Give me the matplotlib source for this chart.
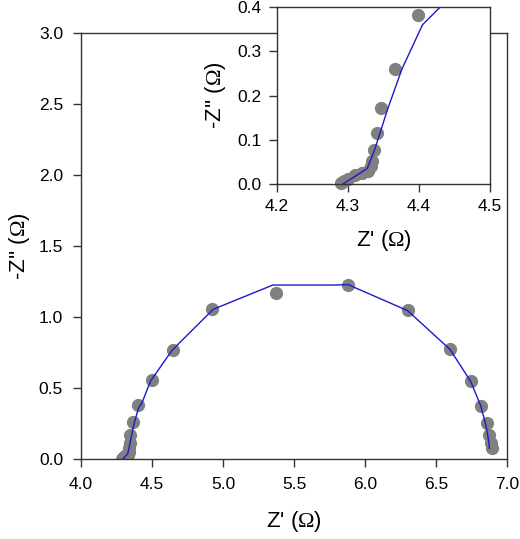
import matplotlib
matplotlib.use("Agg")
import matplotlib.pyplot as plt

plt.rcParams['font.family'] = ['Liberation Sans', 'DejaVu Sans']
plt.rcParams['mathtext.fontset'] = 'custom'
plt.rcParams['mathtext.rm'] = 'Liberation Serif'

# measured data (Z', -Z'')
z_re = [4.290, 4.295, 4.300, 4.310, 4.320, 4.328, 4.332, 4.334, 4.337, 4.341,
        4.347, 4.366, 4.398, 4.498, 4.645, 4.920, 5.373, 5.883, 6.300, 6.599,
        6.744, 6.820, 6.861, 6.876, 6.885, 6.897]
z_im = [0.002, 0.006, 0.012, 0.020, 0.025, 0.030, 0.040, 0.052, 0.077, 0.115,
        0.172, 0.259, 0.382, 0.556, 0.768, 1.056, 1.171, 1.225, 1.047, 0.775,
        0.549, 0.375, 0.254, 0.172, 0.115, 0.078]

# fitted curve
fit_re = [4.293, 4.327, 4.337, 4.345, 4.356, 4.376, 4.405, 4.43, 4.49, 4.64,
          4.93, 5.35, 5.78, 5.88, 6.30, 6.60, 6.745, 6.815, 6.848, 6.864,
          6.872, 6.876]
fit_im = [0.000, 0.035, 0.075, 0.115, 0.170, 0.260, 0.360, 0.400, 0.550, 0.765,
          1.054, 1.225, 1.225, 1.228, 1.045, 0.770, 0.545, 0.375, 0.250, 0.170,
          0.115, 0.075]

main_xticks = [4.0, 4.5, 5.0, 5.5, 6.0, 6.5, 7.0]
main_yticks = [0.0, 0.5, 1.0, 1.5, 2.0, 2.5, 3.0]
ins_xticks = [4.2, 4.3, 4.4, 4.5]
ins_yticks = [0.0, 0.1, 0.2, 0.3, 0.4]

grey = '#808080'
blue = '#1a1acc'
xlab = r"Z' ($\mathrm{\Omega}$)"
ylab = r"-Z'' ($\mathrm{\Omega}$)"

fig = plt.figure(figsize=(5.2, 5.39), dpi=100)
ax = fig.add_axes([0.156, 0.1484, 0.819, 0.7904])
ax.plot(z_re, z_im, 'o', color=grey, markersize=8.5, zorder=2)
ax.plot(fit_re, fit_im, '-', color=blue, lw=1.0, zorder=3)
ax.set_xlim(4.0, 7.0)
ax.set_ylim(0.0, 3.0)
ax.set_xticks(main_xticks)
ax.set_yticks(main_yticks)
ax.set_xticklabels([f'{v:.1f}' for v in main_xticks])
ax.set_yticklabels([f'{v:.1f}' for v in main_yticks])
ax.tick_params(direction='out', length=6, width=1, labelsize=12.5,
               color='#333333', pad=7)
ax.set_xlabel(xlab, fontsize=16, labelpad=12)
ax.set_ylabel(ylab, fontsize=16, labelpad=5)
for s in ax.spines.values():
    s.set_linewidth(1)
    s.set_color('#333333')

ins = fig.add_axes([0.5327, 0.6586, 0.4096, 0.3284])
ins.plot(z_re, z_im, 'o', color=grey, markersize=8.5, zorder=2, clip_on=False)
ins.plot(fit_re, fit_im, '-', color=blue, lw=1.0, zorder=3)
ins.set_xlim(4.2, 4.5)
ins.set_ylim(0.0, 0.4)
ins.set_xticks(ins_xticks)
ins.set_yticks(ins_yticks)
ins.set_xticklabels([f'{v:.1f}' for v in ins_xticks])
ins.set_yticklabels([f'{v:.1f}' for v in ins_yticks])
ins.tick_params(direction='out', length=6, width=1, labelsize=12.5,
                color='#333333', pad=5)
ins.set_xlabel(xlab, fontsize=16, labelpad=10)
ins.set_ylabel(ylab, fontsize=16, labelpad=7)
for s in ins.spines.values():
    s.set_linewidth(1)
    s.set_color('#333333')

fig.savefig('out.png', dpi=100)
